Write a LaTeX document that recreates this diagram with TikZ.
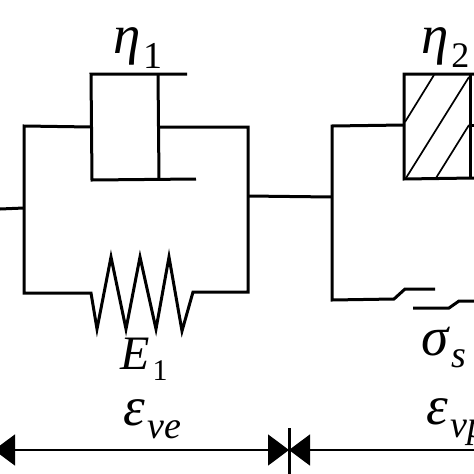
\documentclass[tikz,border=0pt]{standalone}
\usepackage{fontspec}
\usepackage{tikz}
\usetikzlibrary{arrows.meta}
\setmainfont{Liberation Serif}
\newcommand{\sublabel}[5]{\fontsize{#1}{#1}\selectfont #2\kern3pt\raisebox{-#5pt}{\fontsize{#3}{#3}\selectfont #4}}
\tikzset{
    wire/.style={line width=3pt,line join=miter},
    hatch/.style={line width=1.7pt},
    dimline/.style={line width=1.5pt},
    bigtip/.tip={Triangle[length=21pt,width=31pt]},
    symbol/.style={inner sep=0pt,anchor=base west}
}

\begin{document}
\begin{tikzpicture}[x=1pt,y=-1pt]
    \useasboundingbox (0,0) rectangle (474,474);
    \clip (0,0) rectangle (474,474);
    \draw[wire] (0,209) -- (24,208);
    \draw[wire] (91,127) -- (24,126) -- (24,293) -- (91,293) -- (97,329) -- (111,257) -- (126,329) -- (140,257) -- (156,329) -- (169,257) -- (182,331) -- (193,292) -- (248,292) -- (248,127) -- (159,127);
    \draw[wire] (187,74) -- (91,74) -- (92,180) -- (196,179);
    \draw[wire] (158,74) -- (159,179);
    \draw[wire] (248,196) -- (332,197);
    \draw[wire] (404,125) -- (332,126) -- (332,300) -- (394,299) -- (405,289) -- (435,289);
    \draw[wire] (413,308) -- (449,308) -- (459,301) -- (474,301);
    \draw[wire] (474,74) -- (404,74) -- (404,179) -- (474,178);
    \draw[wire] (470,74) -- (470,179);
    \draw[wire] (470,125) -- (474,125);
    \draw[hatch] (405,122) -- (434,75);
    \draw[hatch] (406,178) -- (469,77);
    \draw[hatch] (436,178) -- (469,125);
    \coordinate (dimleft) at (-6,450);
    \coordinate (dimmid) at (289,450);
    \coordinate (dimright) at (474,450);
    \draw[dimline,{bigtip}-{bigtip}] (dimleft) -- (dimmid);
    \draw[dimline,{bigtip}-] (dimmid) -- (dimright);
    \draw[line width=3pt] (289,428) -- (289,474);
    \node[symbol] (eta1) at (113,53) {\sublabel{55}{{\itshape η}}{38}{1}{15}};
    \node[symbol] (eta2) at (421,53) {\sublabel{55}{{\itshape η}}{36}{2}{14}};
    \node[symbol] (E1) at (120,369) {\sublabel{48}{{\itshape E}}{30}{1}{11}};
    \node[symbol] (sigmas) at (421,355) {\sublabel{55}{{\itshape σ}}{38}{{\itshape s}}{12}};
    \node[symbol] (epsve) at (123,425) {\sublabel{55}{{\itshape ε}}{38}{{\itshape ve}}{13}};
    \node[symbol] (epsvp) at (426,424) {\sublabel{55}{{\itshape ε}}{38}{{\itshape vp}}{13}};
\end{tikzpicture}
\end{document}
